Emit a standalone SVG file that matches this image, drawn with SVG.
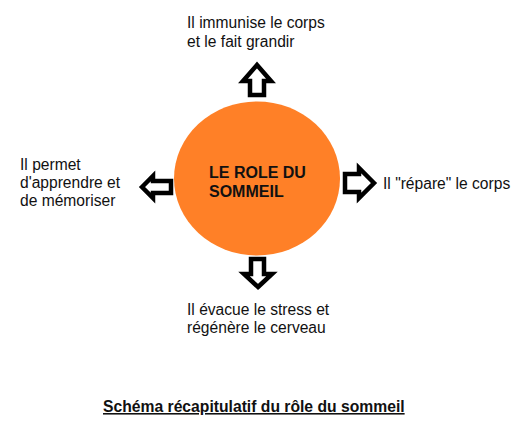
<svg xmlns="http://www.w3.org/2000/svg" width="529" height="443" viewBox="0 0 529 443">
<style>
.t{font-family:"Liberation Sans",Arial,sans-serif;font-size:15.6px;fill:#111}
.b{font-family:"Liberation Sans",Arial,sans-serif;font-size:16px;font-weight:bold;fill:#111}
.arr{fill:#fff;stroke:#000;stroke-width:4.5;stroke-linejoin:miter}
</style>
<rect width="529" height="443" fill="#fff"/>
<g id="centre">
<ellipse cx="257" cy="178.5" rx="83" ry="77" fill="#FF8027"/>
<text class="b" x="209" y="178">LE ROLE DU</text>
<text class="b" x="209" y="197">SOMMEIL</text>
</g>
<g id="connectors">
<path class="arr" d="M257,65 L271,81 L264,81 L264,95 L250,95 L250,81 L243,81 Z"/>
<path class="arr" d="M258,287 L272,274 L264,274 L264,259 L251,259 L251,274 L244,274 Z"/>
<path class="arr" d="M142,187 L153,176 L153,181 L171,181 L171,193 L153,193 L153,198 Z"/>
<path class="arr" d="M374,183 L359,168 L359,174 L345,174 L345,192 L359,192 L359,198 Z"/>
</g>
<g id="haut">
<text class="t" x="187" y="28">Il immunise le corps</text>
<text class="t" x="187" y="47">et le fait grandir</text>
</g>
<g id="gauche">
<text class="t" x="20" y="170">Il permet</text>
<text class="t" x="20" y="188">d'apprendre et</text>
<text class="t" x="20" y="206">de mémoriser</text>
</g>
<g id="droite">
<text class="t" x="383" y="189">Il "répare" le corps</text>
</g>
<g id="bas">
<text class="t" x="187" y="315">Il évacue le stress et</text>
<text class="t" x="187" y="333">régénère le cerveau</text>
</g>
<g id="titre">
<text class="b" x="103" y="412" style="font-size:15.7px;text-decoration:underline">Schéma récapitulatif du rôle du sommeil</text>
</g>
</svg>
